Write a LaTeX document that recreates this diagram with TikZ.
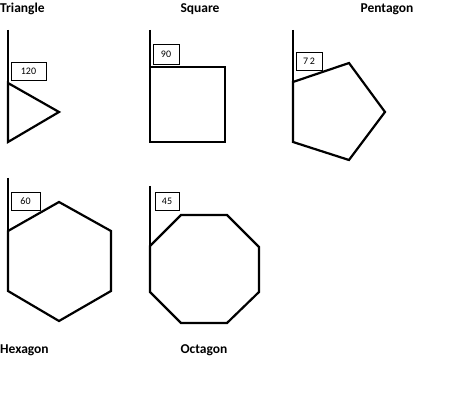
\documentclass[tikz,border=0pt]{standalone}
\usepackage{fontspec}
\setmainfont{Carlito}
\begin{document}
\begin{tikzpicture}[x=1pt,y=-1pt,
  title/.style={font=\bfseries\fontsize{13.5}{15}\selectfont, inner sep=0pt},
  anglebox/.style={draw, line width=0.8pt, minimum height=18pt, inner sep=0pt, font=\fontsize{10}{11}\selectfont},
  polyline/.style={line width=2.2pt, line join=miter},
  stem/.style={line width=2.2pt}]
\useasboundingbox (0,0) rectangle (467,414);
% Triangle
\node[title, anchor=west] (t1) at (0,9) {Triangle};
\coordinate (a0) at (8,30);
\coordinate (a1) at (8,83);
\coordinate (a2) at (59,112);
\coordinate (a3) at (8,142);
\draw[stem] (a0) -- (a1);
\draw[polyline] (a1) -- (a2) -- (a3) -- cycle;
\node[anglebox, minimum width=35pt] (b1) at (28.5,71) {120};
% Square
\node[title] (t2) at (200,9) {Square};
\coordinate (s0) at (150,30);
\coordinate (s1) at (150,67);
\coordinate (s2) at (225,67);
\coordinate (s3) at (225,142);
\coordinate (s4) at (150,142);
\draw[stem] (s0) -- (s1);
\draw[polyline] (s1) -- (s2) -- (s3) -- (s4) -- cycle;
\node[anglebox, minimum width=26pt, minimum height=20pt] (b2) at (166,54) {90};
% Pentagon
\node[title] (t3) at (387,9) {Pentagon};
\coordinate (p0) at (293,30);
\coordinate (p1) at (293,82);
\coordinate (p2) at (349,63);
\coordinate (p3) at (385,112);
\coordinate (p4) at (349,160);
\coordinate (p5) at (293,142);
\draw[stem] (p0) -- (p1);
\draw[polyline] (p1) -- (p2) -- (p3) -- (p4) -- (p5) -- cycle;
\node[anglebox, minimum width=26pt] (b3) at (309,61) {7\,2};
% Hexagon
\node[title, anchor=west] (t4) at (0,350) {Hexagon};
\coordinate (h0) at (8,178);
\coordinate (h1) at (8,231);
\coordinate (h2) at (59,202);
\coordinate (h3) at (111,231);
\coordinate (h4) at (111,291);
\coordinate (h5) at (59,321);
\coordinate (h6) at (8,291);
\draw[stem] (h0) -- (h1);
\draw[polyline] (h1) -- (h2) -- (h3) -- (h4) -- (h5) -- (h6) -- cycle;
\node[anglebox, minimum width=29pt] (b4) at (25.5,201.5) {60};
% Octagon
\node[title] (t5) at (204,350) {Octagon};
\coordinate (o0) at (150,186);
\coordinate (o1) at (150,246);
\coordinate (o2) at (181,215);
\coordinate (o3) at (227,215);
\coordinate (o4) at (259,247);
\coordinate (o5) at (259,292);
\coordinate (o6) at (227,323);
\coordinate (o7) at (181,323);
\coordinate (o8) at (150,292);
\draw[stem] (o0) -- (o1);
\draw[polyline] (o1) -- (o2) -- (o3) -- (o4) -- (o5) -- (o6) -- (o7) -- (o8) -- cycle;
\node[anglebox, minimum width=24pt] (b5) at (167,201) {45};
\end{tikzpicture}
\end{document}
